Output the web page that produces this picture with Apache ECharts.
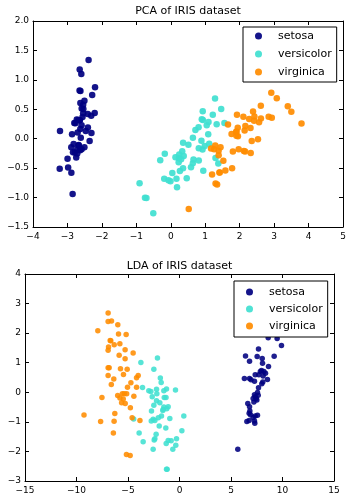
<!DOCTYPE html>
<html>
<head>
<meta charset="utf-8">
<script src="https://cdn.jsdelivr.net/npm/echarts@6/dist/echarts.min.js"></script>
<style>
html,body{margin:0;padding:0;background:#fff;}
#c{width:363px;height:501px;}
</style>
</head>
<body>
<div id="c"></div>
<script>
const classNames = ['setosa', 'versicolor', 'virginica'];
const classColors = ['#000080', '#40e0d0', '#ff8c00'];

const pcaTicksX = [-4, -3, -2, -1, 0, 1, 2, 3, 4, 5];
const pcaTicksY = [-1.5, -1.0, -0.5, 0.0, 0.5, 1.0, 1.5, 2.0];
const ldaTicksX = [-15, -10, -5, 0, 5, 10, 15];
const ldaTicksY = [-3, -2, -1, 0, 1, 2, 3, 4];

const pcaSetosa = [
[-2.684,0.319],[-2.714,-0.177],[-2.889,-0.145],[-2.745,-0.318],[-2.729,0.327],[-2.281,0.741],[-2.821,-0.089],[-2.626,0.163],[-2.886,-0.578],[-2.674,-0.114],
[-2.507,0.645],[-2.613,0.015],[-2.787,-0.235],[-3.225,-0.511],[-2.644,1.178],[-2.386,1.338],[-2.623,0.811],[-2.648,0.312],[-2.199,0.873],[-2.587,0.514],
[-2.310,0.391],[-2.543,0.433],[-3.216,0.133],[-2.303,0.099],[-2.356,-0.037],[-2.508,-0.146],[-2.469,0.131],[-2.562,0.368],[-2.640,0.312],[-2.633,-0.197],
[-2.588,-0.180],[-2.410,0.419],[-2.648,0.819],[-2.597,1.100],[-2.673,-0.107],[-2.866,0.077],[-2.625,0.607],[-2.801,0.269],[-2.980,-0.488],[-2.590,0.230],
[-2.770,0.264],[-2.850,-0.941],[-2.997,-0.342],[-2.406,0.189],[-2.209,0.437],[-2.715,-0.250],[-2.538,0.504],[-2.839,-0.228],[-2.543,0.579],[-2.704,0.107]
];
const pcaVersicolor = [
[1.285,0.685],[0.932,0.318],[1.464,0.504],[0.181,-0.826],[1.087,0.075],[0.640,-0.418],[1.095,0.284],[-0.749,-1.004],[1.044,0.228],[-0.009,-0.723],
[-0.508,-1.266],[0.512,-0.104],[0.264,-0.550],[0.984,-0.125],[-0.174,-0.255],[0.928,0.468],[0.660,-0.353],[0.236,-0.333],[0.944,-0.543],[0.045,-0.584],
[1.116,-0.084],[0.358,-0.069],[1.298,-0.328],[0.922,-0.183],[0.715,0.149],[0.900,0.329],[1.332,0.245],[1.558,0.267],[0.813,-0.163],[-0.306,-0.368],
[-0.068,-0.705],[-0.190,-0.680],[0.136,-0.314],[1.380,-0.421],[0.587,-0.484],[0.807,0.195],[1.220,0.408],[0.813,-0.371],[0.245,-0.267],[0.165,-0.680],
[0.463,-0.670],[0.890,-0.034],[0.229,-0.402],[-0.707,-1.008],[0.356,-0.503],[0.332,-0.211],[0.376,-0.292],[0.642,0.017],[-0.906,-0.756],[0.300,-0.349]
];
const pcaVirginica = [
[2.531,-0.010],[1.416,-0.575],[2.617,0.343],[1.971,-0.180],[2.350,-0.040],[3.397,0.551],[0.521,-1.193],[2.933,0.356],[2.321,-0.244],[2.918,0.783],
[1.662,0.242],[1.803,-0.216],[2.165,0.216],[1.345,-0.776],[1.585,-0.539],[1.905,0.119],[1.949,0.041],[3.488,1.172],[3.795,0.257],[1.300,-0.761],
[2.428,0.378],[1.199,-0.606],[3.500,0.460],[1.388,-0.204],[2.276,0.333],[2.614,0.558],[1.258,-0.179],[1.291,-0.117],[2.123,-0.210],[2.388,0.464],
[2.841,0.375],[3.233,1.374],[2.159,-0.217],[1.444,-0.143],[1.780,-0.500],[3.077,0.688],[2.144,0.140],[1.905,0.049],[1.169,-0.165],[2.108,0.372],
[2.315,0.184],[1.922,0.409],[1.416,-0.575],[2.563,0.278],[2.419,0.305],[1.944,0.188],[1.527,-0.375],[1.764,0.079],[1.901,0.117],[1.390,-0.283]
];

const ldaSetosa = [
[8.61,1.84],[9.48,1.82],[9.90,1.58],[7.67,1.46],[6.41,1.23],[7.54,1.21],[8.03,1.14],[6.80,1.05],[9.19,1.22],[8.06,0.98],
[8.64,0.87],[7.96,0.74],[8.19,0.70],[8.35,0.64],[7.35,0.59],[7.70,0.59],[6.30,0.47],[6.80,0.47],[8.54,0.43],[8.12,0.55],
[7.28,0.37],[7.99,0.29],[8.09,0.35],[7.67,0.15],[7.57,-0.01],[7.64,-0.10],[7.28,-0.08],[7.15,-0.21],[7.35,-0.15],[7.51,-0.26],
[7.22,-0.33],[6.63,-0.38],[6.80,-0.49],[6.83,-0.63],[6.76,-0.71],[6.89,-0.76],[7.57,-0.78],[7.15,-0.85],[7.35,-0.80],[6.54,-0.99],
[6.76,-0.95],[7.31,-1.05],[7.28,-0.97],[5.66,-1.93],[9.16,2.74],[6.94,0.42],[7.85,0.70],[7.45,-0.20],[8.58,2.30],[9.40,2.10]
];
const ldaVersicolor = [
[-3.75,1.01],[-2.14,1.16],[-2.49,0.78],[-1.86,0.48],[-3.59,0.16],[-1.78,0.33],[-2.23,0.10],[-2.98,0.05],[-2.78,0.03],[-1.26,0.11],
[-0.39,0.08],[-1.52,0.05],[-1.48,-0.18],[-1.31,-0.18],[-2.65,-0.15],[-2.23,-0.29],[-1.91,-0.35],[-2.49,-0.44],[-1.52,-0.50],[-1.10,-0.49],
[-1.59,-0.58],[-1.24,-0.56],[-2.72,-0.63],[-1.75,-0.80],[-2.06,-0.86],[0.42,-0.80],[-4.45,-0.90],[-2.56,-0.91],[-2.39,-0.95],[-2.74,-0.97],
[-0.94,-0.89],[-1.97,-1.14],[-1.33,-1.21],[0.23,-1.30],[-3.92,-1.38],[-2.27,-1.42],[-3.53,-1.67],[-2.39,-1.57],[-2.46,-1.61],[-1.10,-1.63],
[-0.81,-1.64],[-0.29,-1.57],[-1.29,-1.73],[-0.36,-1.79],[-0.65,-1.93],[-2.56,-1.93],[-1.26,-2.60],[-1.20,-2.60],[-1.62,-0.62],[-2.20,-0.05]
];
const ldaVirginica = [
[-6.93,2.68],[-7.93,2.08],[-6.93,2.39],[-6.60,2.41],[-5.99,2.28],[-5.92,1.97],[-5.18,1.95],[-6.73,1.75],[-6.67,1.74],[-5.79,1.64],
[-6.34,1.61],[-6.89,1.53],[-5.28,1.44],[-6.93,1.42],[-5.86,1.25],[-4.50,1.33],[-5.28,1.13],[-6.93,0.83],[-6.83,0.83],[-5.73,0.80],
[-5.08,0.78],[-5.44,0.60],[-6.93,0.57],[-6.38,0.45],[-4.17,0.49],[-4.01,0.57],[-6.62,0.26],[-4.72,0.32],[-5.05,0.17],[-4.17,0.17],
[-6.00,-0.11],[-7.53,-0.18],[-5.55,-0.05],[-5.36,-0.05],[-5.13,-0.05],[-5.78,-0.19],[-5.46,-0.23],[-5.62,-0.35],[-5.27,-0.38],[-4.43,-0.13],
[-4.77,-0.52],[-9.27,-0.77],[-6.28,-0.72],[-7.66,-0.99],[-6.35,-0.98],[-4.60,-0.86],[-3.84,-0.95],[-6.42,-1.38],[-5.15,-2.10],[-4.79,-2.14]
];

const FONT = 'DejaVu Sans';
const minus = s => String(s).replace('-', '\u2212');

function axisPair(kind, gridIndex, ticks, decimals, pos, showLabels) {
  const interval = ticks[1] - ticks[0];
  return {
    type: 'value', gridIndex: gridIndex, position: pos,
    min: ticks[0], max: ticks[ticks.length - 1], interval: interval,
    axisLine: { show: true, onZero: false, lineStyle: { color: '#000', width: 1 } },
    axisTick: { show: true, inside: true, length: 4, lineStyle: { color: '#000', width: 1 } },
    splitLine: { show: false },
    axisLabel: {
      show: showLabels, margin: kind === 'x' ? 5 : 4,
      color: '#000', fontFamily: FONT, fontSize: 9,
      formatter: v => minus(decimals ? v.toFixed(decimals) : Math.round(v))
    }
  };
}

const chart = echarts.init(document.getElementById('c'), null, { renderer: 'canvas' });

function sc(name, data, ci, xi, yi, size, op) {
  return {
    type: 'scatter', name: name, data: data, xAxisIndex: xi, yAxisIndex: yi,
    symbol: 'circle', symbolSize: size,
    itemStyle: { color: classColors[ci], opacity: op },
    emphasis: { disabled: true }, animation: false
  };
}

function legendOpt(left, top, pad, gap, textPad) {
  return {
    data: classNames, orient: 'vertical', left: left, top: top,
    padding: pad, itemGap: gap, itemWidth: 7, itemHeight: 7,
    backgroundColor: '#fff', borderColor: '#000', borderWidth: 1, borderRadius: 0,
    selectedMode: false,
    textStyle: { fontFamily: FONT, fontSize: 11, color: '#000', lineHeight: 14, padding: [0, 0, 0, textPad] }
  };
}

chart.setOption({
  backgroundColor: '#fff',
  animation: false,
  grid: [
    { left: 33, top: 21, width: 310, height: 206, containLabel: false },
    { left: 25, top: 274, width: 309, height: 207, containLabel: false }
  ],
  xAxis: [
    axisPair('x', 0, pcaTicksX, 0, 'bottom', true),
    axisPair('x', 0, pcaTicksX, 0, 'top', false),
    axisPair('x', 1, ldaTicksX, 0, 'bottom', true),
    axisPair('x', 1, ldaTicksX, 0, 'top', false)
  ],
  yAxis: [
    axisPair('y', 0, pcaTicksY, 1, 'left', true),
    axisPair('y', 0, pcaTicksY, 1, 'right', false),
    axisPair('y', 1, ldaTicksY, 0, 'left', true),
    axisPair('y', 1, ldaTicksY, 0, 'right', false)
  ],
  legend: [
    legendOpt(243, 27, [2, 5, 3, 12], 4, 11),
    legendOpt(234, 281, [4, 5, 4, 12], 3, 11)
  ],
  graphic: [
    { type: 'text', x: 188, y: 11.5, style: { text: 'PCA of IRIS dataset', fontFamily: FONT, fontSize: 11, fill: '#000', textAlign: 'center', textVerticalAlign: 'middle' } },
    { type: 'text', x: 179.5, y: 266.5, style: { text: 'LDA of IRIS dataset', fontFamily: FONT, fontSize: 11, fill: '#000', textAlign: 'center', textVerticalAlign: 'middle' } }
  ],
  series: [
    sc('setosa', pcaSetosa, 0, 0, 0, 6.5, 0.92),
    sc('versicolor', pcaVersicolor, 1, 0, 0, 6.5, 0.92),
    sc('virginica', pcaVirginica, 2, 0, 0, 6.5, 0.92),
    sc('setosa', ldaSetosa, 0, 2, 2, 5.5, 0.88),
    sc('versicolor', ldaVersicolor, 1, 2, 2, 5.5, 0.88),
    sc('virginica', ldaVirginica, 2, 2, 2, 5.5, 0.88)
  ]
});
</script>
</body>
</html>
